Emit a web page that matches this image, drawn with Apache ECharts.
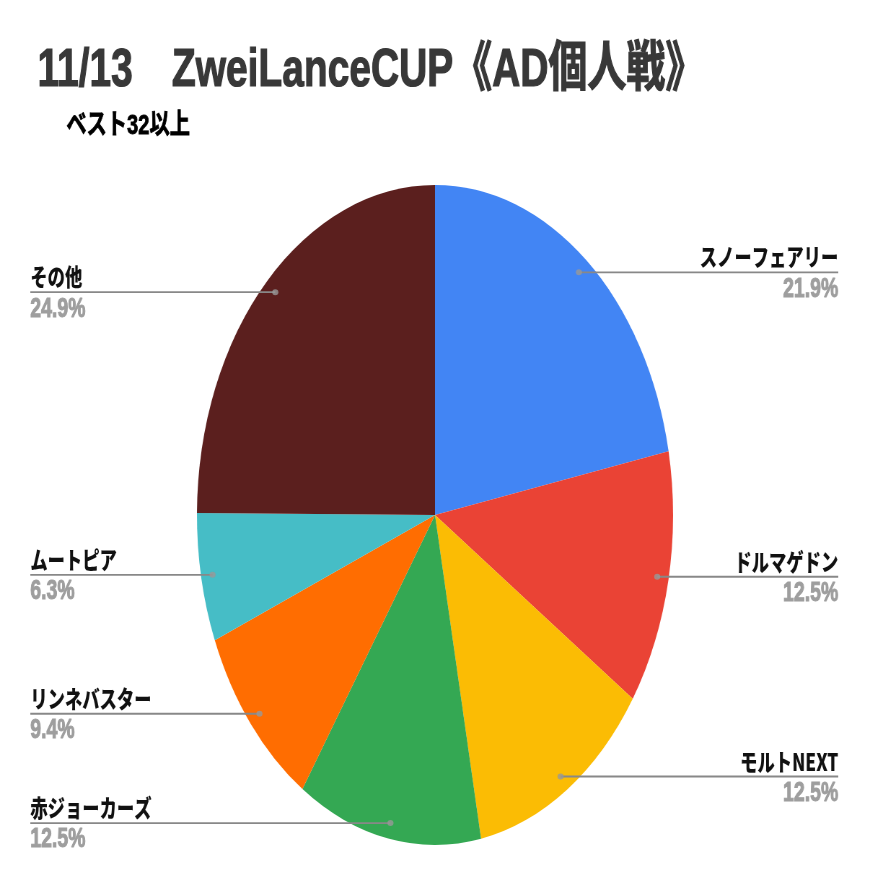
<!DOCTYPE html>
<html>
<head>
<meta charset="utf-8">
<script src="https://cdn.jsdelivr.net/npm/echarts@6/dist/echarts.min.js"></script>
<style>
html,body{margin:0;padding:0;background:#fff;}
#wrap{width:870px;height:870px;overflow:hidden;position:relative;}
#main{width:1206px;height:870px;transform:scaleX(0.72139);transform-origin:0 0;}
</style>
</head>
<body>
<div id="wrap"><div id="main"></div></div>
<script>
const titleText = '11/13\u3000ZweiLanceCUP《AD個人戦》';
const subtitleText = 'ベスト32以上';
const categories = ['スノーフェアリー', 'ドルマゲドン', 'モルトNEXT', '赤ジョーカーズ', 'リンネバスター', 'ムートピア', 'その他'];
const values = [21.9, 12.5, 12.5, 12.5, 9.4, 6.3, 24.9];
const colors = ['#4285F4', '#EA4335', '#FBBC04', '#34A853', '#FF6D01', '#46BDC6', '#5B1F1E'];

const W = 1206;
const CENTER = ['50%', 515];
const R = 330;
const LABEL_R = 0.952;
const LEFT_EDGE = 42;
const RIGHT_EDGE = 1162;

const pieData = categories.map((c, i) => ({ name: c, value: values[i] }));
const total = values.reduce((a, b) => a + b, 0);
let acc = 0;
const dotData = values.map(v => { const mid = acc + v / 2; acc += v; return [LABEL_R, mid / total * 100]; });

const chart = echarts.init(document.getElementById('main'), null, { renderer: 'canvas' });
chart.setOption({
  animation: false,
  backgroundColor: '#ffffff',
  title: [
    { text: titleText, left: 47, top: 39,
      textStyle: { fontSize: 54, fontWeight: 'bold', color: '#383838', textBorderColor: '#383838', textBorderWidth: 1.2, fontFamily: "'Liberation Sans', 'Noto Sans CJK JP', sans-serif" } },
    { text: subtitleText, left: 87, top: 107,
      textStyle: { fontSize: 28, fontWeight: 'bold', color: '#000', textBorderColor: '#000', textBorderWidth: 0.8, fontFamily: "'Liberation Sans', 'Noto Sans CJK JP', sans-serif" } }
  ],
  polar: { center: CENTER, radius: R },
  angleAxis: { type: 'value', min: 0, max: 100, startAngle: 90, clockwise: true, show: false },
  radiusAxis: { type: 'value', min: 0, max: 1, show: false },
  series: [
    {
      type: 'pie', center: CENTER, radius: R, startAngle: 90, clockwise: true,
      data: pieData, color: colors, label: { show: false }, labelLine: { show: false },
      silent: true, z: 1
    },
    {
      type: 'pie', center: CENTER, radius: R * LABEL_R, startAngle: 90, clockwise: true,
      data: pieData, silent: true, z: 3,
      itemStyle: { color: 'rgba(0,0,0,0)' },
      label: {
        show: true,
        formatter: p => '{n|' + p.name + '}\n{v|' + p.value.toFixed(1) + '%}',
        rich: {
          n: { fontSize: 24, fontWeight: 900, color: '#111', lineHeight: 32, fontFamily: "'Noto Sans CJK JP', 'Liberation Sans', sans-serif" },
          v: { fontSize: 27, fontWeight: 'bold', color: '#9e9e9e', textBorderColor: '#9e9e9e', textBorderWidth: 1, lineHeight: 32, fontFamily: "'Liberation Sans', 'Noto Sans CJK JP', sans-serif" }
        }
      },
      labelLine: { show: true, length: 10, length2: 10, lineStyle: { color: '#888', width: 1.8 } },
      labelLayout: function (params) {
        const pts = params.labelLinePoints;
        if (!pts) return {};
        const s = pts[0];
        const isLeft = s[0] < W / 2;
        const ex = isLeft ? LEFT_EDGE : RIGHT_EDGE;
        return {
          x: ex, y: s[1] + 1, align: isLeft ? 'left' : 'right', verticalAlign: 'middle',
          labelLinePoints: [[s[0], s[1]], [ex, s[1]], [ex, s[1]]]
        };
      }
    },
    {
      type: 'scatter', coordinateSystem: 'polar', data: dotData,
      symbol: 'circle', symbolSize: [8.5, 6], silent: true, z: 4,
      itemStyle: { color: '#999' }
    }
  ]
});
</script>
</body>
</html>
